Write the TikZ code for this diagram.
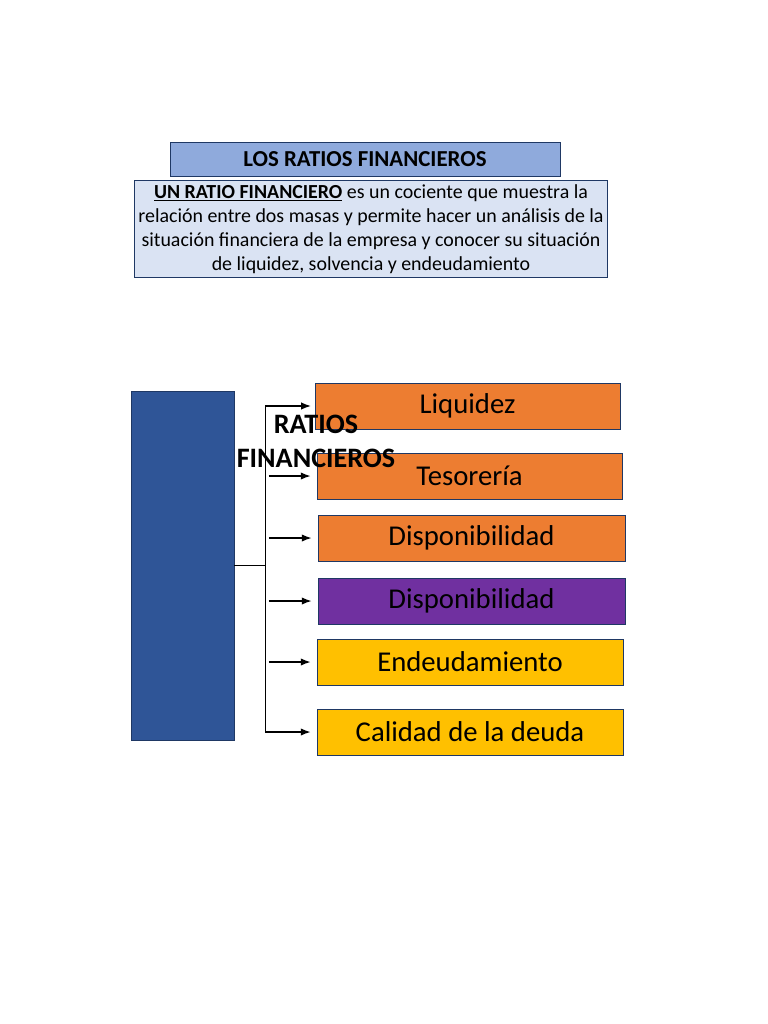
\documentclass[tikz,border=0pt]{standalone}
\usepackage{fontspec}
\setmainfont{Carlito}
\usetikzlibrary{positioning, arrows.meta}
\definecolor{ratioOrange}{HTML}{ED7D31}
\definecolor{ratioPurple}{HTML}{7030A0}
\definecolor{ratioGold}{HTML}{FFC000}
\definecolor{ratioBlue}{HTML}{2F5597}
\definecolor{titleBlue}{HTML}{8FAADC}
\definecolor{descBlue}{HTML}{DAE3F3}
\definecolor{edgeNavy}{HTML}{1F3864}
\tikzset{
    ratiobox/.style={rectangle, draw=edgeNavy, thick, minimum height=1.38cm, font=\fontsize{24.5}{28}\selectfont, inner sep=0pt},
    arrow/.style={-Latex, very thick}
}
\begin{document}
\begin{tikzpicture}[x=0.03cm, y=-0.03cm]
    \useasboundingbox (0,0) rectangle (768,1024);

    % Heading
    \node[rectangle, draw=edgeNavy, fill=titleBlue, minimum width=11.7cm, minimum height=1.02cm, font=\fontsize{19.5}{22}\selectfont\bfseries] (title) at (365,159) {LOS RATIOS FINANCIEROS};
    \node[rectangle, draw=edgeNavy, fill=descBlue, minimum width=13.5cm, minimum height=2.82cm, align=center, font=\fontsize{17}{20.5}\selectfont] (desc) at (371,229)
        {\textbf{\underline{UN RATIO FINANCIERO}} es un cociente que muestra la\\relación entre dos masas y permite hacer un análisis de la\\situación financiera de la empresa y conocer su situación\\de liquidez, solvencia y endeudamiento};

    % Left block
    \node[rectangle, draw=edgeNavy, fill=ratioBlue, minimum width=3.09cm, minimum height=10.47cm] (blk) at (182.5,565.5) {};

    % Ratio boxes
    \node[ratiobox, fill=ratioOrange, minimum width=9.15cm] (liq) at (467.5,406) {Liquidez};
    \node[ratiobox, fill=ratioOrange, minimum width=9.15cm] (tes) at (469.5,476) {Tesorería};
    \node[ratiobox, fill=ratioOrange, minimum width=9.21cm] (dis) at (471.5,538) {Disponibilidad};
    \node[ratiobox, fill=ratioPurple, minimum width=9.21cm] (dip) at (471.5,601) {Disponibilidad};
    \node[ratiobox, fill=ratioGold, minimum width=9.18cm] (end) at (470,662) {Endeudamiento};
    \node[ratiobox, fill=ratioGold, minimum width=9.18cm] (cal) at (470,732) {Calidad de la deuda};

    % Label
    \node[align=center, font=\fontsize{24}{29}\selectfont\bfseries] (lbl) at (316,441) {RATIOS\\FINANCIEROS};

    % Bracket
    \draw[very thick] (blk.east) -- ++(31,0) coordinate (jn);
    \draw[very thick] (jn |- liq.west) -- (jn |- cal.west);
    \draw[arrow] (jn |- liq.west) -- ([xshift=-3pt]liq.west);
    \foreach \n in {tes, dis, dip, end}
        \draw[arrow] ([xshift=3pt]jn |- \n.west) -- ([xshift=-5pt]\n.west);
    \draw[arrow] (jn |- cal.west) -- ([xshift=-5pt]cal.west);
\end{tikzpicture}
\end{document}
